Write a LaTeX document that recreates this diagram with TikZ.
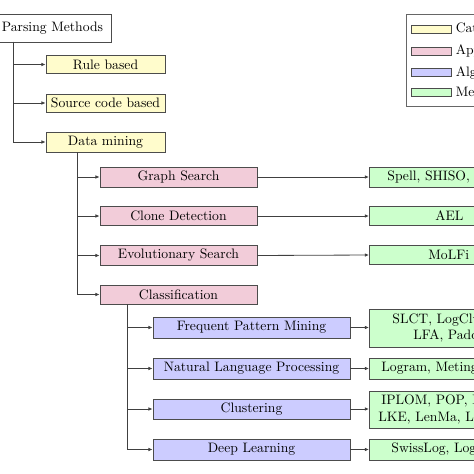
\documentclass[tikz,border=0pt]{standalone}
\usetikzlibrary{arrows.meta}
\tikzset{
  bx/.style={draw=black!70, line width=0.6pt, inner sep=0pt, text=black, minimum height={19*0.731pt}},
  rootbox/.style={bx, fill=white, minimum width={117*0.731pt}, minimum height={28*0.731pt}},
  catbox/.style={bx, fill=yellow!20, minimum width={119*0.731pt}},
  appbox/.style={bx, fill=purple!20, minimum width={157*0.731pt}},
  algbox/.style={bx, fill=blue!20, minimum width={197*0.731pt}},
  metbox/.style={bx, fill=green!20, anchor=west, align=left, text width={200*0.731pt}},
  swatch/.style={draw=black!70, line width=0.6pt, minimum width={40*0.731pt}, minimum height={8*0.731pt}, inner sep=0pt},
  leglabel/.style={anchor=west, inner sep=0pt, text height=1.6ex, text depth=0.4ex},
  arr/.style={draw=black!75, line width=0.6pt, -{Latex[length=3pt,width=2.6pt]}}
}
\begin{document}
\begin{tikzpicture}[x=0.731pt, y=-0.731pt]
\useasboundingbox (0,0) rectangle (474,474);
\clip (0,0) rectangle (474,474);
% root
\node[rootbox] (pm) at (52.5,28) {Parsing Methods};
% categories
\node[catbox, minimum height={18*0.731pt}] (rule) at (105.5,64.5) {Rule based};
\node[catbox, minimum height={18*0.731pt}] (src) at (105.5,103) {Source code based};
\node[catbox, minimum height={20*0.731pt}] (dm) at (105.5,142) {Data mining};
% approaches
\node[appbox, minimum height={20*0.731pt}] (gs) at (178.5,177) {Graph Search};
\node[appbox] (cd) at (178.5,216) {Clone Detection};
\node[appbox, minimum height={20*0.731pt}] (es) at (178.5,255.5) {Evolutionary Search};
\node[appbox] (cl) at (178.5,294.5) {Classification};
% algorithms
\node[algbox, minimum height={21*0.731pt}] (fpm) at (251.5,327.5) {Frequent Pattern Mining};
\node[algbox, minimum height={21*0.731pt}] (nlp) at (251.5,368.5) {Natural Language Processing};
\node[algbox, minimum height={20*0.731pt}] (clu) at (251.5,409) {Clustering};
\node[algbox, minimum height={21*0.731pt}] (dl) at (251.5,449.5) {Deep Learning};
% methods
\node[metbox, minimum height={20*0.731pt}, inner xsep={18*0.731pt}] (m1) at (369,177) {Spell, SHISO, Drain};
\node[metbox, inner xsep={66*0.731pt}] (m2) at (369,216) {AEL};
\node[metbox, inner xsep={59*0.731pt}] (m3) at (369,255) {MoLFi};
\node[metbox, minimum height={38*0.731pt}, inner xsep={23*0.731pt}] (m4) at (369,328) {SLCT, LogCluster,\\\hspace*{15.3pt}LFA, Paddy};
\node[metbox, minimum height={21*0.731pt}, inner xsep={12*0.731pt}] (m5) at (369,368.5) {Logram, MetingTree};
\node[metbox, minimum height={37*0.731pt}, inner xsep={9*0.731pt}] (m6) at (369,409.5) {\hspace*{2.2pt}IPLOM, POP, IPLoM\\LKE, LenMa, LogSig};
\node[metbox, minimum height={21*0.731pt}, inner xsep={22*0.731pt}] (m7) at (369,449.5) {SwissLog, LogPPT};
% trunk coordinates
\coordinate (t1) at (13,42);
\coordinate (t2) at (77,152);
\coordinate (t3) at (127,304);
\draw[arr] (t1) |- (rule.west);
\draw[arr] (t1) |- (src.west);
\draw[arr] (t1) |- (dm.west);
\draw[arr] (t2) |- (gs.west);
\draw[arr] (t2) |- (cd.west);
\draw[arr] (t2) |- (es.west);
\draw[arr] (t2) |- (cl.west);
\draw[arr] (t3) |- (fpm.west);
\draw[arr] (t3) |- (nlp.west);
\draw[arr] (t3) |- (clu.west);
\draw[arr] (t3) |- (dl.west);
\draw[arr] (gs.east) -- (m1.west);
\draw[arr] (cd.east) -- (m2.west);
\draw[arr] (es.east) -- (m3.west);
\draw[arr] (fpm.east) -- (fpm.east -| m4.west);
\draw[arr] (nlp.east) -- (m5.west);
\draw[arr] (clu.east) -- (clu.east -| m6.west);
\draw[arr] (dl.east) -- (m7.west);
% legend
\node[draw=black!60, line width=0.6pt, fill=white, anchor=north west, inner sep=0pt, minimum width={140*0.731pt}, minimum height={92*0.731pt}] (lg) at (406,14) {};
\node[swatch, fill=yellow!20] (s1) at (431,29) {};
\node[swatch, fill=purple!20] (s2) at (431,51) {};
\node[swatch, fill=blue!20] (s3) at (431,72.5) {};
\node[swatch, fill=green!20] (s4) at (431,92.5) {};
\node[leglabel] (l1) at (455.5,29) {Category};
\node[leglabel] (l2) at (455.5,51) {Approach};
\node[leglabel] (l3) at (455.5,72.5) {Algorithm};
\node[leglabel] (l4) at (455.5,92.5) {Method};
\end{tikzpicture}
\end{document}
